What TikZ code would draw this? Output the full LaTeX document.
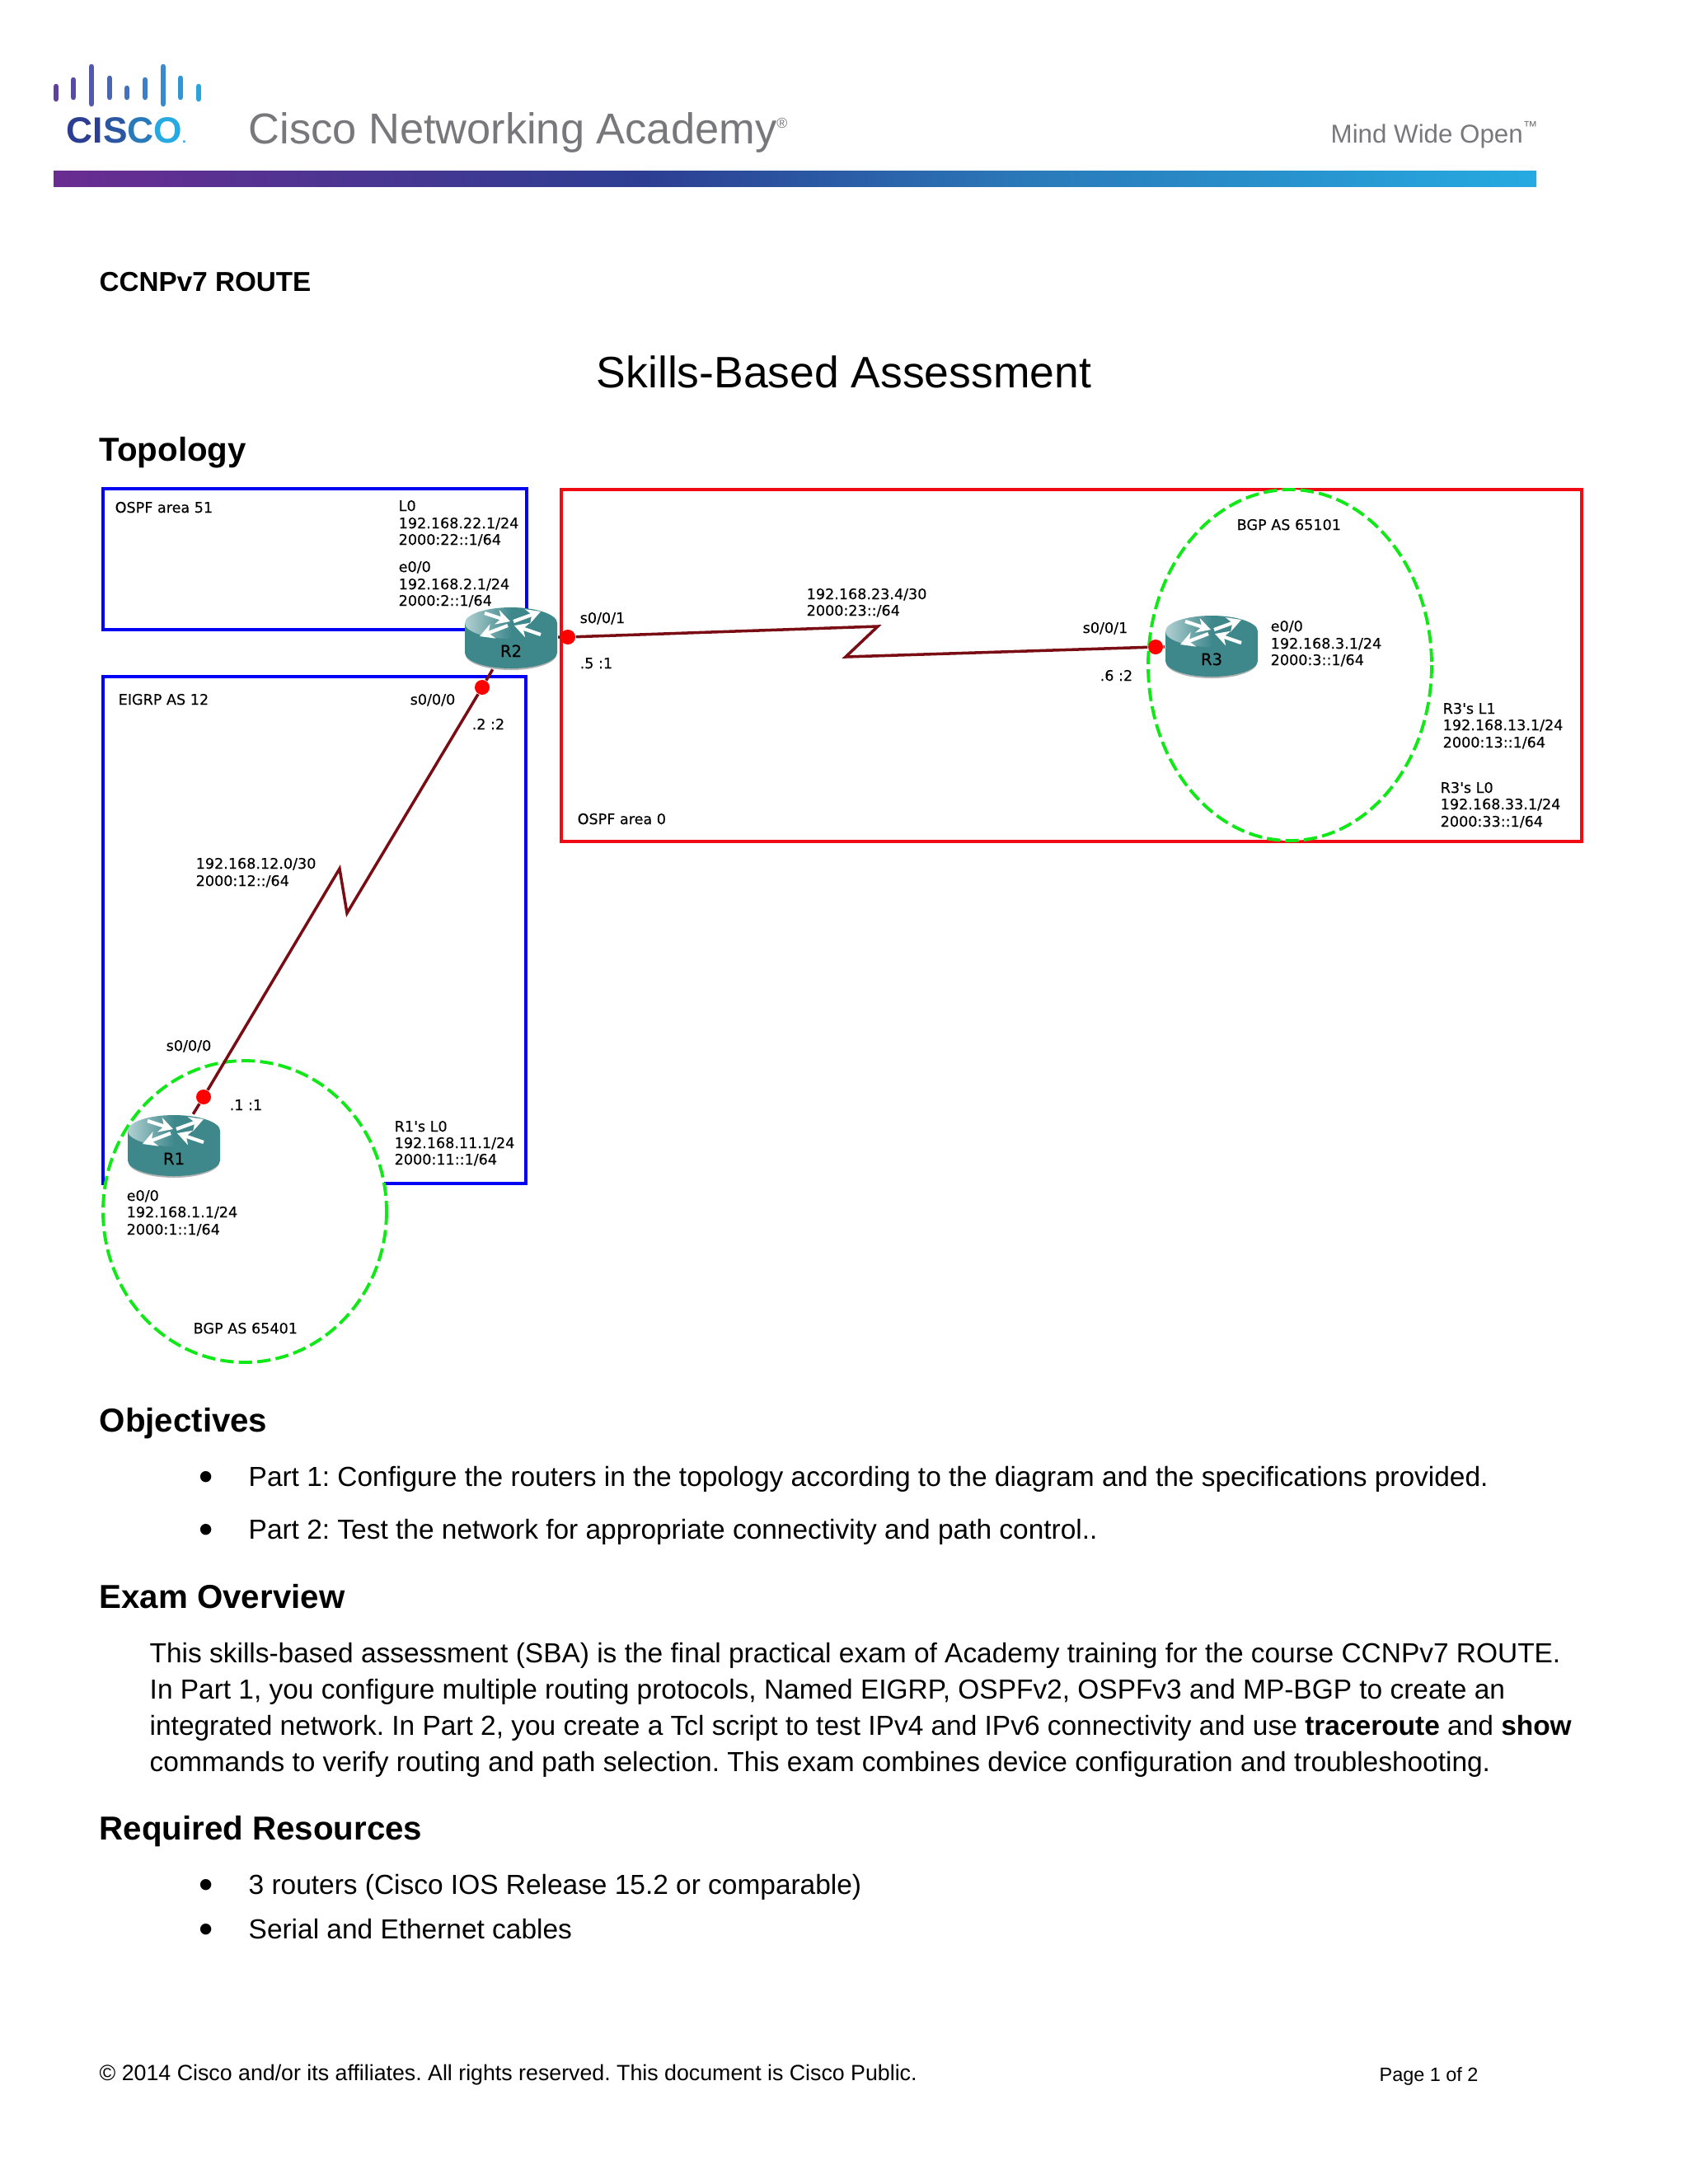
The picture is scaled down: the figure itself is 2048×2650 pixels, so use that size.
\documentclass[tikz,border=0pt]{standalone}
\usepackage{fontspec}
\setmainfont{Liberation Sans}
\newfontfamily\netfont[FakeBold=0.25]{DejaVu Sans}
\newfontfamily\logofont[LetterSpace=15]{Liberation Sans}
\usepackage{tikz}
\usetikzlibrary{arrows.meta,positioning}
\definecolor{areaBlue}{RGB}{0,0,245}
\definecolor{areaRed}{RGB}{240,10,20}
\definecolor{bgpGreen}{RGB}{16,232,24}
\definecolor{serialRed}{RGB}{122,12,20}
\definecolor{routerTeal}{RGB}{62,136,140}
\definecolor{routerPale}{RGB}{178,208,210}
\definecolor{logoGrey}{RGB}{120,120,124}
\definecolor{barPurple}{RGB}{106,44,145}
\definecolor{barIndigo}{RGB}{44,62,146}
\definecolor{barBlue}{RGB}{42,122,185}
\definecolor{barSky}{RGB}{38,170,225}
\pgfdeclarehorizontalshading{academybar}{100bp}{
  color(0bp)=(barPurple); color(25bp)=(barPurple); color(45bp)=(barIndigo); color(58bp)=(barBlue); color(75bp)=(barSky); color(100bp)=(barSky)}
\tikzset{
  areabox/.style={line width=1pt},
  bgpzone/.style={draw=bgpGreen, fill=white, line width=1.1pt, dash pattern=on 4.6pt off 1.8pt},
  seriallink/.style={draw=serialRed, line width=1pt},
  linkdot/.style={circle, fill=red, inner sep=0pt, minimum size=0.18cm},
  netlabel/.style={font=\netfont\fontsize{5}{5.83}\selectfont, anchor=base west, inner sep=0pt, align=left},
  bodytext/.style={font=\fontsize{9.51}{11.4}\selectfont\frenchspacing, anchor=base west, inner sep=0pt, align=left},
  headtext/.style={font=\bfseries\fontsize{11.45}{14}\selectfont, anchor=base west, inner sep=0pt},
  footertext/.style={font=\fontsize{7.61}{9}\selectfont\frenchspacing, anchor=base west, inner sep=0pt},
  bulletmark/.style={font=\fontsize{14}{16}\selectfont, anchor=base, inner sep=0pt},
  logobar/.style={line width=1.9pt, line cap=round},
  routerarrow/.style={draw=white, line width=1.2pt, -{Stealth[length=4.8pt,width=5.2pt]}},
  routericon/.pic={
    \fill[gray!60] (-55,-15) -- (-55,20) arc[start angle=180, end angle=0, x radius=55, y radius=19] -- (55,-15) -- cycle;
    \fill[routerTeal] (-56,-18) -- (-56,18) arc[start angle=180, end angle=0, x radius=56, y radius=19] -- (56,-18) -- cycle;
    \shade[left color=routerPale, right color=routerTeal, middle color=routerTeal] (0,-18) ellipse[x radius=56, y radius=19];
    \draw[routerarrow] (-32,-30) -- (-1,-20);
    \draw[routerarrow] (3,-20) -- (36,-32);
    \draw[routerarrow] (-4,-15) -- (-38,-2);
    \draw[routerarrow] (36,-4) -- (4,-15);
    \node[inner sep=0pt, minimum width=1.13cm, minimum height=0.75cm] (body) at (0,0) {};
    \node[netlabel, anchor=base, font=\netfont\fontsize{5.6}{6.5}\selectfont] (name) at (0,23) {#1};
  }
}

\begin{document}
\begin{tikzpicture}[x=0.01cm, y=-0.01cm]
  \useasboundingbox (0,0) rectangle (2048,2650);
  % letterhead
  \foreach \xpos/\ytop/\ybot/\mix in {68/105/120/85, 89/97/118/75, 111/81/126/65, 133/95/118/55, 154/107/118/45, 176/97/118/35, 198/81/126/25, 219/95/118/15, 241/105/120/5}
    \draw[logobar, color=barPurple!\mix!barSky] (\xpos,\ytop) -- (\xpos,\ybot);
  \node[anchor=base west, inner sep=0pt, font=\logofont\bfseries\fontsize{12.6}{14}\selectfont] (ciscomark) at (80,173) {\textcolor{barIndigo}{C}\textcolor{barIndigo}{I}\textcolor{barIndigo!60!barBlue}{S}\textcolor{barBlue}{C}\textcolor{barSky}{O}\textcolor{barSky}{\tiny.}};
  \node[anchor=base west, inner sep=0pt, text=logoGrey, font=\fontsize{14.9}{18}\selectfont] (academy) at (301,174) {Cisco Networking Academy\textsuperscript{\tiny®}};
  \node[anchor=base west, inner sep=0pt, text=logoGrey, font=\fontsize{8.9}{11}\selectfont] (mindwide) at (1614,173) {Mind Wide Open\textsuperscript{\tiny™}};
  \shade[shading=academybar] (65,207) rectangle (1864,226);
  % page heads
  \node[bodytext, font=\bfseries\fontsize{9.45}{11.4}\selectfont] (course) at (120,353) {CCNPv7 ROUTE};
  \node[anchor=base, inner sep=0pt, font=\fontsize{15.2}{18}\selectfont] (title) at (1024,470) {Skills-Based Assessment};
  \node[headtext] (topohead) at (120,559) {Topology};
  % areas
  \draw[areabox, draw=areaBlue] (125,593) rectangle (639,764);
  \draw[areabox, draw=areaBlue] (125,821) rectangle (638,1436);
  \draw[areabox, draw=areaRed] (681,594) rectangle (1919,1021);
  \draw[bgpzone] (1565,807) ellipse[x radius=172, y radius=213];
  \draw[bgpzone] (297,1470) ellipse[x radius=172, y radius=183];
  % routers
  \pic (R1) at (211,1390) {routericon={R1}};
  \pic (R2) at (620,774) {routericon={R2}};
  \pic (R3) at (1470,784) {routericon={R3}};
  % serial links
  \node[linkdot] (dotR2east) at (689,773) {};
  \node[linkdot] (dotR3west) at (1402,785) {};
  \node[linkdot] (dotR2south) at (585,834) {};
  \node[linkdot] (dotR1north) at (247,1331) {};
  \coordinate (kinkA) at (1065,760);
  \coordinate (kinkB) at (1026,797);
  \coordinate (kinkC) at (421,1108);
  \coordinate (kinkD) at (412,1054);
  \draw[seriallink] (R2body) -- (dotR2east) -- (kinkA) -- (kinkB) -- (dotR3west) -- (R3body);
  \draw[seriallink] (R2body) -- (dotR2south) -- (kinkC) -- (kinkD) -- (dotR1north) -- (R1body);
  % labels, R2 side
  \node[netlabel] (area51) at (139,622) {OSPF area 51};
  \node[netlabel] (R2loop) at (483,620) {L0};
  \node[netlabel] (R2loopA) at (483,641) {192.168.22.1/24};
  \node[netlabel] (R2loopB) at (483,661) {2000:22::1/64};
  \node[netlabel] (R2eth) at (483,694) {e0/0};
  \node[netlabel] (R2ethA) at (483,715) {192.168.2.1/24};
  \node[netlabel] (R2ethB) at (483,735) {2000:2::1/64};
  \node[netlabel] (eigrp) at (143,855) {EIGRP AS 12};
  \node[netlabel] (R2sz) at (497,855) {s0/0/0};
  \node[netlabel] (R2szaddr) at (572,885) {.2 :2};
  \node[netlabel] (R2so) at (703,756) {s0/0/1};
  \node[netlabel] (R2soaddr) at (703,811) {.5 :1};
  % labels, R3 side
  \node[netlabel] (net23A) at (978,727) {192.168.23.4/30};
  \node[netlabel] (net23B) at (978,747) {2000:23::/64};
  \node[netlabel] (R3so) at (1313,768) {s0/0/1};
  \node[netlabel] (R3soaddr) at (1334,826) {.6 :2};
  \node[netlabel] (R3eth) at (1541,766) {e0/0};
  \node[netlabel] (R3ethA) at (1541,787) {192.168.3.1/24};
  \node[netlabel] (R3ethB) at (1541,807) {2000:3::1/64};
  \node[netlabel] (bgpA) at (1500,643) {BGP AS 65101};
  \node[netlabel] (R3lone) at (1750,866) {R3's L1};
  \node[netlabel] (R3loneA) at (1750,886) {192.168.13.1/24};
  \node[netlabel] (R3loneB) at (1750,907) {2000:13::1/64};
  \node[netlabel] (R3lzero) at (1747,962) {R3's L0};
  \node[netlabel] (R3lzeroA) at (1747,982) {192.168.33.1/24};
  \node[netlabel] (R3lzeroB) at (1747,1003) {2000:33::1/64};
  \node[netlabel] (area0) at (700,1000) {OSPF area 0};
  % labels, R1 side
  \node[netlabel] (net12A) at (237,1054) {192.168.12.0/30};
  \node[netlabel] (net12B) at (237,1075) {2000:12::/64};
  \node[netlabel] (R1sz) at (201,1275) {s0/0/0};
  \node[netlabel] (R1szaddr) at (278,1347) {.1 :1};
  \node[netlabel] (R1loop) at (478,1373) {R1's L0};
  \node[netlabel] (R1loopA) at (478,1393) {192.168.11.1/24};
  \node[netlabel] (R1loopB) at (478,1413) {2000:11::1/64};
  \node[netlabel] (R1eth) at (153,1457) {e0/0};
  \node[netlabel] (R1ethA) at (153,1477) {192.168.1.1/24};
  \node[netlabel] (R1ethB) at (153,1498) {2000:1::1/64};
  \node[netlabel] (bgpB) at (234,1618) {BGP AS 65401};
  % text below the topology
  \node[headtext] (objhead) at (120,1737) {Objectives};
  \node[bulletmark] (bulletA) at (250,1808) {•};
  \node[bodytext] (partone) at (301,1803) {Part 1: Configure the routers in the topology according to the diagram and the specifications provided.};
  \node[bulletmark] (bulletB) at (250,1872) {•};
  \node[bodytext] (parttwo) at (301,1867) {Part 2: Test the network for appropriate connectivity and path control..};
  \node[headtext] (examhead) at (120,1951) {Exam Overview};
  \node[bodytext] (examA) at (181,2017) {This skills-based assessment (SBA) is the final practical exam of Academy training for the course CCNPv7 ROUTE.};
  \node[bodytext] (examB) at (181,2061) {In Part 1, you configure multiple routing protocols, Named EIGRP, OSPFv2, OSPFv3 and MP-BGP to create an};
  \node[bodytext] (examC) at (181,2105) {integrated network. In Part 2, you create a Tcl script to test IPv4 and IPv6 connectivity and use \textbf{traceroute} and \textbf{show}};
  \node[bodytext] (examD) at (181,2149) {commands to verify routing and path selection. This exam combines device configuration and troubleshooting.};
  \node[headtext] (reshead) at (120,2232) {Required Resources};
  \node[bulletmark] (bulletC) at (250,2303) {•};
  \node[bodytext] (resA) at (301,2298) {3 routers (Cisco IOS Release 15.2 or comparable)};
  \node[bulletmark] (bulletD) at (250,2357) {•};
  \node[bodytext] (resB) at (301,2352) {Serial and Ethernet cables};
  % footer
  \node[footertext] (rights) at (120,2524) {© 2014 Cisco and/or its affiliates. All rights reserved. This document is Cisco Public.};
  \node[footertext, font=\fontsize{6.66}{8}\selectfont] (pageno) at (1673,2525) {Page 1 of 2};
\end{tikzpicture}
\end{document}
